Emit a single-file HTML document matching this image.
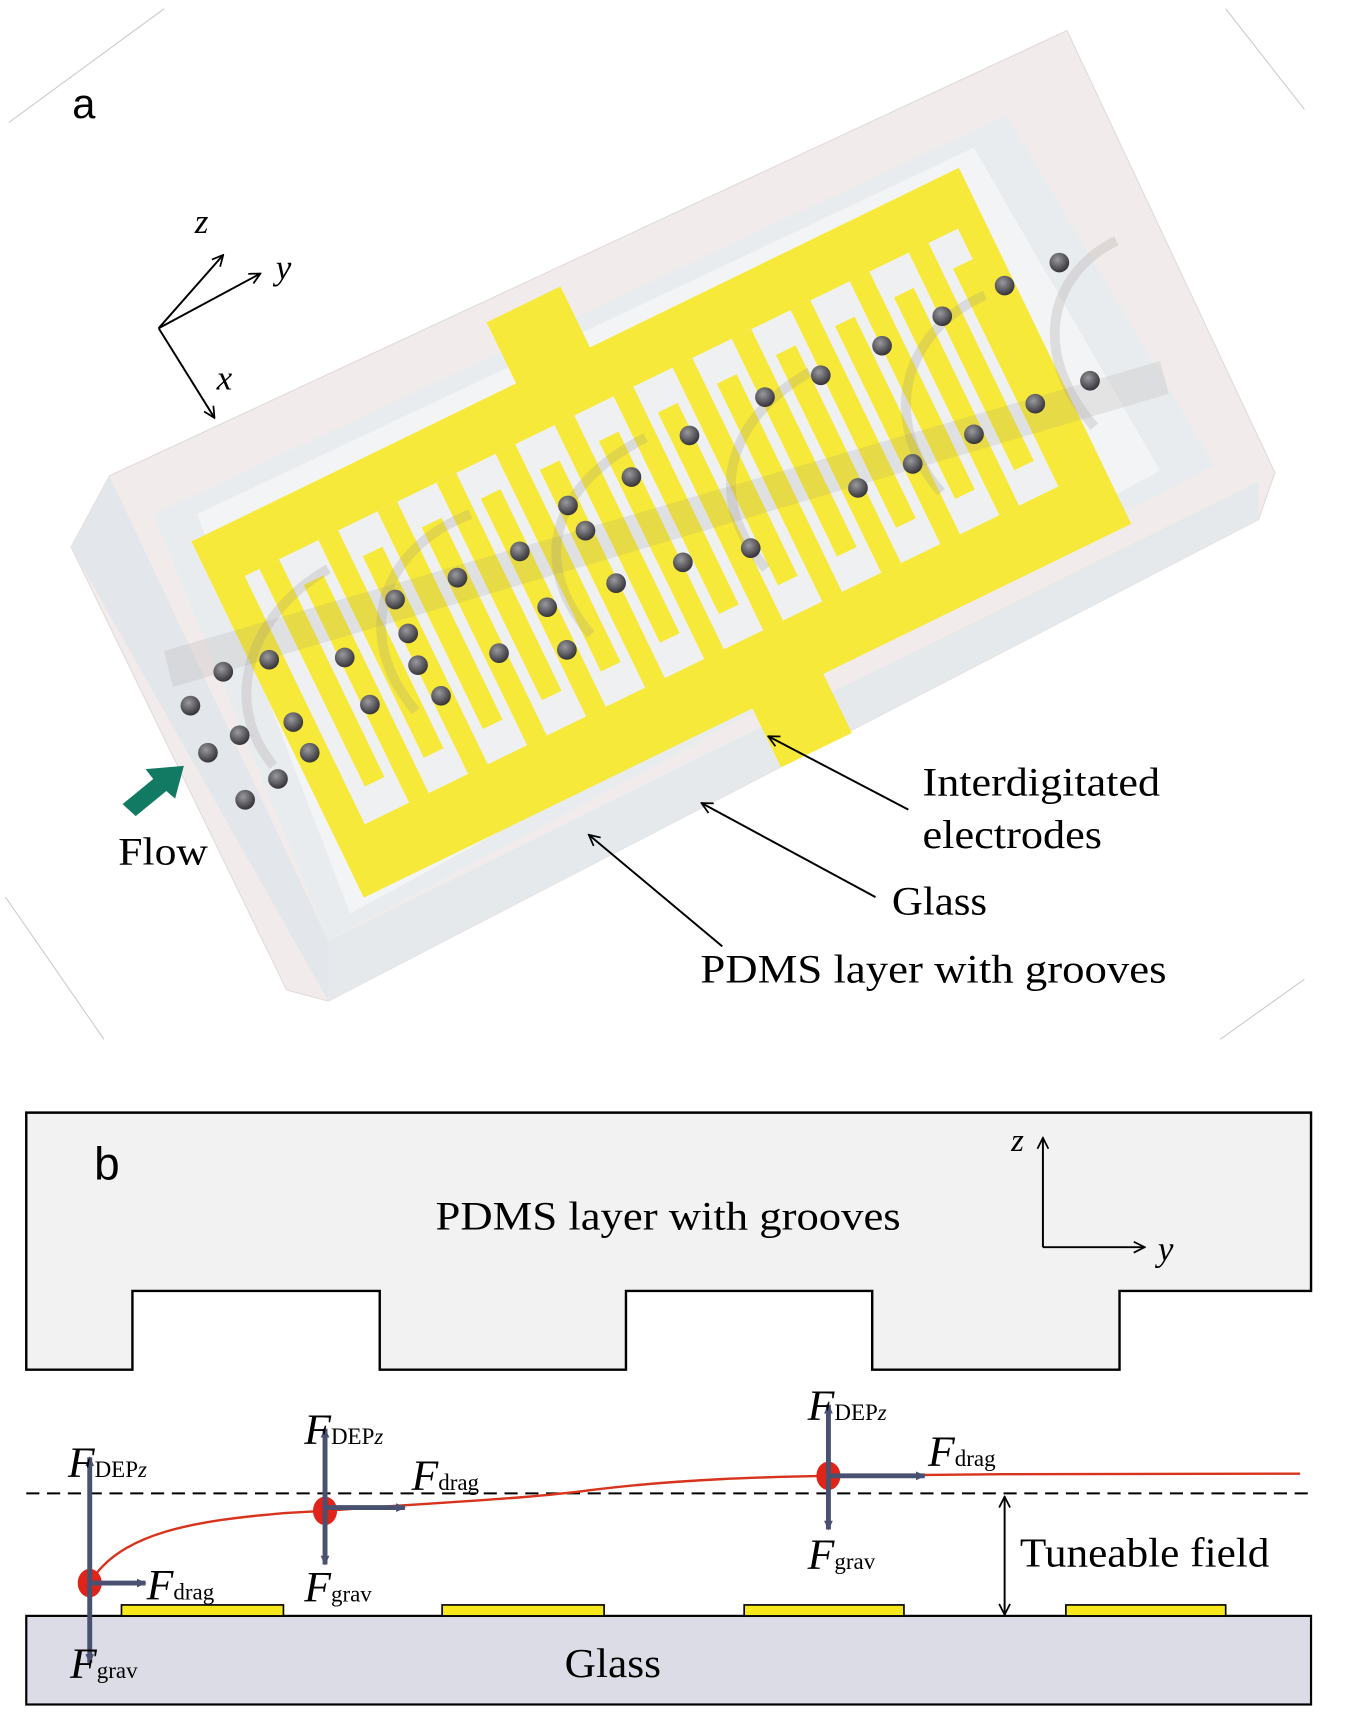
<!DOCTYPE html>
<html><head><meta charset="utf-8"><style>
html,body{margin:0;padding:0;background:#fff;}
svg{display:block;}
.serif{font-family:"Liberation Serif",serif;}
.it{font-family:"Liberation Serif",serif;font-style:italic;}
</style></head><body>
<svg width="1357" height="1722" viewBox="0 0 1240 1574" preserveAspectRatio="none" xmlns="http://www.w3.org/2000/svg">
<defs>
<marker id="oa" viewBox="0 0 12 12" refX="11" refY="6" markerWidth="12" markerHeight="12" markerUnits="userSpaceOnUse" orient="auto-start-reverse">
<path d="M1,1 L11,6 L1,11" fill="none" stroke="#000" stroke-width="1.6"/></marker>
<marker id="fa" viewBox="0 0 10 10" refX="8" refY="5" markerWidth="10" markerHeight="10" markerUnits="userSpaceOnUse" orient="auto-start-reverse">
<path d="M0,1 L9,5 L0,9 Z" fill="#4a5070"/></marker>
<radialGradient id="bead" cx="0.4" cy="0.35" r="0.7"><stop offset="0" stop-color="#9a9a9e"/><stop offset="1" stop-color="#2e2c30"/></radialGradient>
</defs>
<rect width="1240" height="1574" fill="#fff"/>
<g stroke="#ccc" stroke-width="1">
<line x1="8" y1="112" x2="150" y2="8"/><line x1="1120" y1="8" x2="1192" y2="100"/>
<line x1="5" y1="820" x2="95" y2="950"/><line x1="1115" y1="950" x2="1192" y2="895"/>
</g>
<polygon points="100,435 975,28 1165,432 1150,475 300,915 262,905 65,500" fill="#f1eceb" stroke="#e2dada"/>
<polygon points="65,500 100,435 300,860 300,915" fill="#e3e6ea"/>
<polygon points="300,915 300,860 1150,440 1150,475" fill="#e6e9ec"/>
<polygon points="140,470 920,105 1110,425 300,860" fill="#e9ecef"/>
<polygon points="180,470 890,135 1060,430 320,835" fill="#f3f4f5"/>
<g transform="matrix(0.899,-0.438,0.45,0.93,175,495)">
<rect x="0" y="0" width="780" height="350" fill="#f7e93a"/>
<rect x="30" y="48" width="725" height="244" fill="#eef0f2"/>
<g fill="#f7e93a">
<rect x="45" y="48" width="20" height="214"/><rect x="105" y="48" width="20" height="214"/><rect x="165" y="48" width="20" height="214"/><rect x="225" y="48" width="20" height="214"/><rect x="285" y="48" width="20" height="214"/><rect x="345" y="48" width="20" height="214"/><rect x="405" y="48" width="20" height="214"/><rect x="465" y="48" width="20" height="214"/><rect x="525" y="48" width="20" height="214"/><rect x="585" y="48" width="20" height="214"/><rect x="645" y="48" width="20" height="214"/><rect x="705" y="48" width="20" height="214"/>
<rect x="75" y="78" width="20" height="214"/><rect x="135" y="78" width="20" height="214"/><rect x="195" y="78" width="20" height="214"/><rect x="255" y="78" width="20" height="214"/><rect x="315" y="78" width="20" height="214"/><rect x="375" y="78" width="20" height="214"/><rect x="435" y="78" width="20" height="214"/><rect x="495" y="78" width="20" height="214"/><rect x="555" y="78" width="20" height="214"/><rect x="615" y="78" width="20" height="214"/><rect x="675" y="78" width="20" height="214"/><rect x="735" y="78" width="20" height="214"/>
<rect x="330" y="-60" width="75" height="62"/>
<rect x="395" y="348" width="72" height="60"/>
</g>
</g>
<polygon points="150,595 1060,330 1068,360 158,628" fill="rgba(150,140,140,0.16)"/>
<g fill="none" stroke="rgba(150,140,140,0.22)" stroke-width="9">
<path d="M250,700 C200,640 230,560 300,520"/><path d="M380,650 C320,580 350,500 430,470"/>
<path d="M540,580 C480,510 510,440 590,400"/><path d="M700,520 C640,450 670,380 740,340"/>
<path d="M860,450 C800,380 830,300 900,270"/><path d="M1000,390 C940,320 960,250 1020,220"/>
</g>
<g fill="url(#bead)">
<circle cx="174" cy="645" r="9"/><circle cx="204" cy="614" r="9"/><circle cx="246" cy="603" r="9"/><circle cx="190" cy="688" r="9"/><circle cx="219" cy="672" r="9"/><circle cx="224" cy="731" r="9"/><circle cx="254" cy="712" r="9"/><circle cx="268" cy="660" r="9"/><circle cx="283" cy="688" r="9"/><circle cx="315" cy="601" r="9"/><circle cx="338" cy="644" r="9"/><circle cx="361" cy="548" r="9"/><circle cx="373" cy="579" r="9"/><circle cx="382" cy="608" r="9"/><circle cx="403" cy="636" r="9"/><circle cx="418" cy="528" r="9"/><circle cx="456" cy="597" r="9"/><circle cx="475" cy="504" r="9"/><circle cx="500" cy="555" r="9"/><circle cx="519" cy="462" r="9"/><circle cx="535" cy="485" r="9"/><circle cx="518" cy="594" r="9"/><circle cx="563" cy="533" r="9"/><circle cx="577" cy="436" r="9"/><circle cx="624" cy="514" r="9"/><circle cx="630" cy="398" r="9"/><circle cx="686" cy="501" r="9"/><circle cx="699" cy="363" r="9"/><circle cx="750" cy="343" r="9"/><circle cx="784" cy="446" r="9"/><circle cx="806" cy="316" r="9"/><circle cx="834" cy="424" r="9"/><circle cx="861" cy="289" r="9"/><circle cx="890" cy="397" r="9"/><circle cx="918" cy="261" r="9"/><circle cx="946" cy="369" r="9"/><circle cx="968" cy="240" r="9"/><circle cx="996" cy="348" r="9"/>
</g>
<text x="66" y="108" font-family="Liberation Sans,sans-serif" font-size="38">a</text>
<g stroke="#000" stroke-width="1.8" fill="none">
<line x1="145" y1="300" x2="204" y2="233" marker-end="url(#oa)"/>
<line x1="145" y1="300" x2="238" y2="250" marker-end="url(#oa)"/>
<line x1="145" y1="300" x2="196" y2="382" marker-end="url(#oa)"/>
</g>
<text x="178" y="213" class="it" font-size="32">z</text>
<text x="252" y="255" class="it" font-size="32">y</text>
<text x="198" y="356" class="it" font-size="32">x</text>
<polygon points="112,735 140,712 133,703 168,700 160,730 152,723 124,746" fill="#127a63"/>
<text x="108" y="790" class="serif" font-size="36" textLength="82" lengthAdjust="spacingAndGlyphs">Flow</text>
<g stroke="#000" stroke-width="1.8" fill="none">
<line x1="830" y1="740" x2="702" y2="673" marker-end="url(#oa)"/>
<line x1="800" y1="820" x2="641" y2="734" marker-end="url(#oa)"/>
<line x1="660" y1="865" x2="538" y2="763" marker-end="url(#oa)"/>
</g>
<text x="843" y="727" class="serif" font-size="37" textLength="217" lengthAdjust="spacingAndGlyphs">Interdigitated</text>
<text x="843" y="775" class="serif" font-size="37" textLength="164" lengthAdjust="spacingAndGlyphs">electrodes</text>
<text x="815" y="836" class="serif" font-size="37" textLength="87" lengthAdjust="spacingAndGlyphs">Glass</text>
<text x="640" y="898" class="serif" font-size="37" textLength="426" lengthAdjust="spacingAndGlyphs">PDMS layer with grooves</text>
<path d="M24,1017 H1198 V1180 H1023 V1252 H797 V1180 H572 V1252 H347 V1180 H121 V1252 H24 Z" fill="#f2f2f2" stroke="#000" stroke-width="2.2"/>
<text x="86" y="1078" font-family="Liberation Sans,sans-serif" font-size="42">b</text>
<text x="398" y="1124" class="serif" font-size="37" textLength="425" lengthAdjust="spacingAndGlyphs">PDMS layer with grooves</text>
<g stroke="#000" stroke-width="1.8" fill="none">
<line x1="953" y1="1140" x2="953" y2="1040" marker-end="url(#oa)"/>
<line x1="953" y1="1140" x2="1046" y2="1140" marker-end="url(#oa)"/>
</g>
<text x="924" y="1052" class="it" font-size="30">z</text>
<text x="1058" y="1152" class="it" font-size="32">y</text>
<rect x="24" y="1477" width="1174" height="81" fill="#dcdce6" stroke="#000" stroke-width="2"/>
<text x="516" y="1533" class="serif" font-size="38" textLength="88" lengthAdjust="spacingAndGlyphs">Glass</text>
<g fill="#f7e81e" stroke="#000" stroke-width="1.5">
<rect x="111" y="1467" width="148" height="10"/><rect x="404" y="1467" width="148" height="10"/><rect x="680" y="1467" width="146" height="10"/><rect x="974" y="1467" width="146" height="10"/>
</g>
<line x1="24" y1="1365" x2="1198" y2="1365" stroke="#000" stroke-width="1.8" stroke-dasharray="12,7"/>
<path d="M82,1447 C110,1400 180,1390 260,1383 L297,1381 C420,1372 480,1370 540,1362 C620,1352 700,1350 757,1349 C900,1347 1050,1347 1188,1347" fill="none" stroke="#d8331c" stroke-width="2.2"/>
<g fill="#e0241a"><ellipse cx="82" cy="1447" rx="11" ry="13"/><ellipse cx="297" cy="1381" rx="11" ry="13"/><ellipse cx="757" cy="1349" rx="11" ry="13"/></g>
<g stroke="#4a5070" stroke-width="4.5" fill="none">
<line x1="82" y1="1447" x2="82" y2="1332" marker-end="url(#fa)"/>
<line x1="82" y1="1447" x2="82" y2="1520" marker-end="url(#fa)"/>
<line x1="82" y1="1447" x2="133" y2="1447" marker-end="url(#fa)"/>
<line x1="297" y1="1381" x2="297" y2="1306" marker-end="url(#fa)"/>
<line x1="297" y1="1381" x2="297" y2="1430" marker-end="url(#fa)"/>
<line x1="297" y1="1378" x2="370" y2="1378" marker-end="url(#fa)"/>
<line x1="757" y1="1349" x2="757" y2="1284" marker-end="url(#fa)"/>
<line x1="757" y1="1349" x2="757" y2="1398" marker-end="url(#fa)"/>
<line x1="757" y1="1349" x2="845" y2="1349" marker-end="url(#fa)"/>
</g>
<g class="it" font-size="40">
<text x="62" y="1350">F<tspan font-style="normal" font-size="21">DEP</tspan><tspan font-size="21">z</tspan></text>
<text x="278" y="1320">F<tspan font-style="normal" font-size="21">DEP</tspan><tspan font-size="21">z</tspan></text>
<text x="738" y="1298">F<tspan font-style="normal" font-size="21">DEP</tspan><tspan font-size="21">z</tspan></text>
<text x="376" y="1362">F<tspan font-style="normal" font-size="21">drag</tspan></text>
<text x="848" y="1340">F<tspan font-style="normal" font-size="21">drag</tspan></text>
<text x="134" y="1462">F<tspan font-style="normal" font-size="21">drag</tspan></text>
<text x="278" y="1464">F<tspan font-style="normal" font-size="21">grav</tspan></text>
<text x="738" y="1434">F<tspan font-style="normal" font-size="21">grav</tspan></text>
<text x="64" y="1534">F<tspan font-style="normal" font-size="21">grav</tspan></text>
</g>
<line x1="918" y1="1368" x2="918" y2="1476" stroke="#000" stroke-width="1.8" marker-start="url(#oa)" marker-end="url(#oa)"/>
<text x="932" y="1432" class="serif" font-size="38" textLength="228" lengthAdjust="spacingAndGlyphs">Tuneable field</text>
</svg>
</body></html>
